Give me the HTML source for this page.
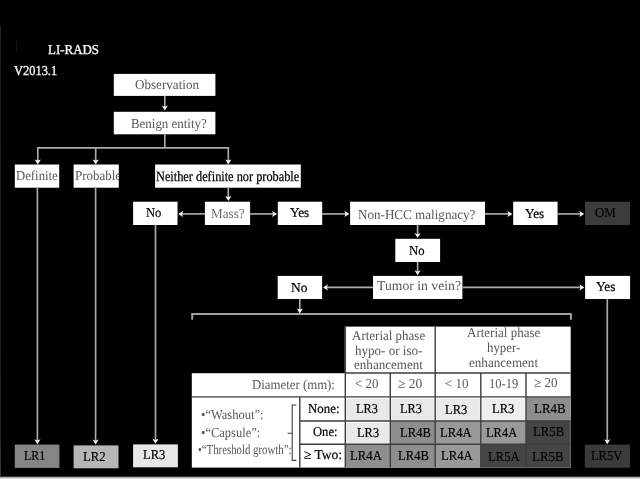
<!DOCTYPE html>
<html><head><meta charset="utf-8"><title>LI-RADS V2013.1</title>
<style>
html,body{margin:0;padding:0;background:#000;}
html{filter:grayscale(1);}
body{width:640px;height:479px;position:relative;overflow:hidden;font-family:"Liberation Serif","DejaVu Serif",serif;font-size:13.6px;color:#000;text-rendering:geometricPrecision;}
.b{position:absolute;}
.t{position:absolute;white-space:nowrap;line-height:1;transform-origin:0 0;}
.g{color:#585858;}
.w{color:#f4f4f4;-webkit-text-stroke:0.35px #f4f4f4;}
.k{-webkit-text-stroke:0.2px #000;}
.n{-webkit-text-stroke:0.25px #000;}
.m{color:#6c6c6c;}
svg{position:absolute;left:0;top:0;}
</style></head><body>
<div class="b" style="left:0;top:476px;width:640px;height:3px;background:linear-gradient(#000,#6a6a6a 33%,#d4d4d4 60%,#e2e2e2)"></div>
<div class="b" style="left:0;top:26px;width:1.4px;height:451px;background:linear-gradient(#242424,#1a1a1a 10%,#222 90%,#3c3c3c)"></div>
<div class="b" style="left:15.6px;top:41px;width:1.5px;height:10.5px;background:#171717"></div>
<svg width="640" height="479" viewBox="0 0 640 479" fill="none" stroke="#acacac" stroke-width="1.65">
<rect x="191.8" y="373.2" width="378.9" height="94.4" fill="#fff" stroke="none"/>
<rect x="344.8" y="326.6" width="225.9" height="47.4" fill="#fff" stroke="none"/>
<rect x="113.8" y="73.9" width="101.6" height="22.0" fill="#fff" stroke="none"/>
<rect x="113.8" y="111.8" width="101.6" height="22.5" fill="#fff" stroke="none"/>
<rect x="14.8" y="164.5" width="44.4" height="23.2" fill="#fff" stroke="none"/>
<rect x="73.6" y="164.5" width="45.2" height="23.2" fill="#fff" stroke="none"/>
<rect x="155.1" y="164.5" width="145.7" height="23.2" fill="#fff" stroke="none"/>
<rect x="133.1" y="201.7" width="44.4" height="23.3" fill="#fff" stroke="none"/>
<rect x="204.9" y="201.7" width="45.2" height="23.3" fill="#fff" stroke="none"/>
<rect x="277.8" y="201.7" width="44.4" height="23.3" fill="#fff" stroke="none"/>
<rect x="350.1" y="201.7" width="134.9" height="23.3" fill="#fff" stroke="none"/>
<rect x="513.2" y="201.7" width="44.4" height="23.3" fill="#fff" stroke="none"/>
<rect x="585" y="201.7" width="45.0" height="23.3" fill="#3c3c3c" stroke="none"/>
<rect x="395.3" y="238.8" width="44.8" height="23.2" fill="#fff" stroke="none"/>
<rect x="277.7" y="275.9" width="44.4" height="23.1" fill="#fff" stroke="none"/>
<rect x="373.0" y="275.9" width="89.4" height="23.1" fill="#fff" stroke="none"/>
<rect x="585.1" y="275.9" width="45.0" height="23.1" fill="#fff" stroke="none"/>
<rect x="14.8" y="444.6" width="44.6" height="23.3" fill="#858585" stroke="none"/>
<rect x="73.6" y="445.4" width="44.9" height="22.9" fill="#b6b6b6" stroke="none"/>
<rect x="133.1" y="444.4" width="44.8" height="22.9" fill="#e7e7e7" stroke="none"/>
<rect x="584.8" y="444.6" width="45.2" height="23.1" fill="#3b3b3b" stroke="none"/>
<rect x="346.3" y="398.7" width="43.0" height="21.3" fill="#e9e9e9" stroke="none"/>
<rect x="391.3" y="398.7" width="42.9" height="21.3" fill="#e9e9e9" stroke="none"/>
<rect x="436.2" y="398.7" width="43.6" height="21.3" fill="#e9e9e9" stroke="none"/>
<rect x="481.8" y="398.7" width="43.2" height="21.3" fill="#eeeeee" stroke="none"/>
<rect x="526.0" y="396.9" width="44.7" height="24.1" fill="#8e8e8e" stroke="none"/>
<rect x="346.3" y="422.8" width="43.0" height="20.5" fill="#e9e9e9" stroke="none"/>
<rect x="390.3" y="421.0" width="44.9" height="23.3" fill="#8e8e8e" stroke="none"/>
<rect x="435.2" y="421.0" width="45.6" height="23.3" fill="#999999" stroke="none"/>
<rect x="480.8" y="421.0" width="45.2" height="23.3" fill="#999999" stroke="none"/>
<rect x="526.0" y="421.0" width="44.7" height="23.3" fill="#454545" stroke="none"/>
<rect x="345.3" y="444.3" width="45.0" height="23.3" fill="#8e8e8e" stroke="none"/>
<rect x="390.3" y="444.3" width="44.9" height="23.3" fill="#8e8e8e" stroke="none"/>
<rect x="435.2" y="444.3" width="45.6" height="23.3" fill="#999999" stroke="none"/>
<rect x="480.8" y="444.3" width="45.2" height="23.3" fill="#454545" stroke="none"/>
<rect x="526.0" y="444.3" width="44.7" height="23.3" fill="#454545" stroke="none"/>
<path d="M164.8 95.9L164.8 107.6" />
<polygon points="164.8,110.6 161.70000000000002,105.6 164.8,106.8 167.9,105.6" fill="#f4f4f4" stroke="none"/>
<path d="M164.8 134.3L164.8 147.8" />
<path d="M37 147.8L229.1 147.8" />
<path d="M37.8 147L37.8 161.4" />
<polygon points="37.8,164.4 34.699999999999996,159.4 37.8,160.6 40.9,159.4" fill="#f4f4f4" stroke="none"/>
<path d="M95.7 147.8L95.7 161.4" />
<polygon points="95.7,164.4 92.60000000000001,159.4 95.7,160.6 98.8,159.4" fill="#f4f4f4" stroke="none"/>
<path d="M228.3 147L228.3 161.4" />
<polygon points="228.3,164.4 225.20000000000002,159.4 228.3,160.6 231.4,159.4" fill="#f4f4f4" stroke="none"/>
<path d="M228.3 187.7L228.3 197.9" />
<polygon points="228.3,200.9 225.20000000000002,195.9 228.3,197.1 231.4,195.9" fill="#f4f4f4" stroke="none"/>
<path d="M37.4 187.7L37.4 441.2" />
<polygon points="37.4,444.2 34.3,439.2 37.4,440.4 40.5,439.2" fill="#f4f4f4" stroke="none"/>
<path d="M95.6 187.7L95.6 441.6" />
<polygon points="95.6,444.6 92.5,439.6 95.6,440.8 98.69999999999999,439.6" fill="#f4f4f4" stroke="none"/>
<path d="M155.5 225L155.5 440.8" />
<polygon points="155.5,443.8 152.4,438.8 155.5,440.0 158.6,438.8" fill="#f4f4f4" stroke="none"/>
<path d="M205 213.9L181.2 213.9" />
<polygon points="178.2,213.9 183.2,210.8 182.0,213.9 183.2,217.0" fill="#f4f4f4" stroke="none"/>
<path d="M250 213.9L274 213.9" />
<polygon points="277,213.9 272.0,210.8 273.2,213.9 272.0,217.0" fill="#f4f4f4" stroke="none"/>
<path d="M322 213.9L346.4 213.9" />
<polygon points="349.4,213.9 344.4,210.8 345.59999999999997,213.9 344.4,217.0" fill="#f4f4f4" stroke="none"/>
<path d="M485 213.9L509.4 213.9" />
<polygon points="512.4,213.9 507.4,210.8 508.59999999999997,213.9 507.4,217.0" fill="#f4f4f4" stroke="none"/>
<path d="M557.6 213.9L581.2 213.9" />
<polygon points="584.2,213.9 579.2,210.8 580.4000000000001,213.9 579.2,217.0" fill="#f4f4f4" stroke="none"/>
<path d="M417.6 225L417.6 235.0" />
<polygon points="417.6,238.0 414.5,233.0 417.6,234.2 420.70000000000005,233.0" fill="#f4f4f4" stroke="none"/>
<path d="M417.6 262L417.6 272.2" />
<polygon points="417.6,275.2 414.5,270.2 417.6,271.4 420.70000000000005,270.2" fill="#f4f4f4" stroke="none"/>
<path d="M373.2 287.4L326 287.4" />
<polygon points="323,287.4 328.0,284.29999999999995 326.8,287.4 328.0,290.5" fill="#f4f4f4" stroke="none"/>
<path d="M462.5 287.4L581.4 287.4" />
<polygon points="584.4,287.4 579.4,284.29999999999995 580.6,287.4 579.4,290.5" fill="#f4f4f4" stroke="none"/>
<path d="M299.8 299L299.8 310.4" />
<polygon points="299.8,313.4 296.7,308.4 299.8,309.59999999999997 302.90000000000003,308.4" fill="#f4f4f4" stroke="none"/>
<path d="M607.3 299L607.3 441.2" />
<polygon points="607.3,444.2 604.1999999999999,439.2 607.3,440.4 610.4,439.2" fill="#f4f4f4" stroke="none"/>
<path d="M192.2 319.8V314.1H570.9V319.8" stroke-width="2" stroke="#a0a0a0"/>
<path d="M345.3 326.6L345.3 467.6" stroke="#3e3e3e" stroke-width="1.4"/>
<path d="M435.2 326.6L435.2 467.6" stroke="#3e3e3e" stroke-width="1.4"/>
<path d="M390.3 373L390.3 467.6" stroke="#3e3e3e" stroke-width="1.4"/>
<path d="M480.8 373L480.8 467.6" stroke="#3e3e3e" stroke-width="1.4"/>
<path d="M526.0 373L526.0 467.6" stroke="#3e3e3e" stroke-width="1.4"/>
<path d="M299.8 397L299.8 467.6" stroke="#3e3e3e" stroke-width="1.4"/>
<path d="M344.8 373L570.7 373" stroke="#3e3e3e" stroke-width="1.4"/>
<path d="M191.6 396.9L570.7 396.9" stroke="#3e3e3e" stroke-width="1.4"/>
<path d="M299.8 421.0L570.7 421.0" stroke="#3e3e3e" stroke-width="1.4"/>
<path d="M299.8 444.3L570.7 444.3" stroke="#3e3e3e" stroke-width="1.4"/>
<path d="M296.4 405H292.2V460.4H296.4M287.6 433.3H292.2" stroke="#3e3e3e" stroke-width="1.1"/>
</svg>
<span class="t w" style="left:48.3px;top:43.0px;transform:scaleX(0.951);">LI-RADS</span>
<span class="t w" style="left:13.8px;top:64.3px;transform:scaleX(0.915);">V2013.1</span>
<span class="t g" style="left:134.9px;top:77.7px;transform:scaleX(0.964);">Observation</span>
<span class="t g" style="left:130.6px;top:116.5px;transform:scaleX(0.950);">Benign entity?</span>
<span class="t g" style="left:16.2px;top:169.3px;transform:scaleX(0.938);">Definite</span>
<span class="t g" style="left:74.7px;top:169.3px;transform:scaleX(0.954);clip-path:inset(-5px 2.1px -5px -5px);">Probable</span>
<span class="t n" style="left:156.3px;top:169.6px;font-size:14.3px;transform:scaleX(0.861);">Neither definite nor probable</span>
<span class="t k" style="left:146.3px;top:206.3px;transform:scaleX(0.926);">No</span>
<span class="t m" style="left:211.3px;top:206.8px;transform:scaleX(0.970);">Mass?</span>
<span class="t k" style="left:290.0px;top:205.6px;transform:scaleX(0.970);">Yes</span>
<span class="t g" style="left:357.5px;top:207.5px;transform:scaleX(0.963);">Non-HCC malignacy?</span>
<span class="t k" style="left:525.0px;top:206.7px;transform:scaleX(0.970);">Yes</span>
<span class="t k" style="left:595.0px;top:205.6px;transform:scaleX(0.949);">OM</span>
<span class="t k" style="left:408.5px;top:244.0px;transform:scaleX(0.933);">No</span>
<span class="t k" style="left:291.1px;top:280.9px;transform:scaleX(0.987);">No</span>
<span class="t g" style="left:377.0px;top:279.3px;transform:scaleX(1.008);">Tumor in vein?</span>
<span class="t k" style="left:596.0px;top:280.3px;transform:scaleX(0.990);">Yes</span>
<span class="t k" style="left:23.6px;top:448.8px;transform:scaleX(0.885);">LR1</span>
<span class="t k" style="left:83.3px;top:449.7px;transform:scaleX(0.939);">LR2</span>
<span class="t k" style="left:143.0px;top:448.2px;transform:scaleX(0.926);">LR3</span>
<span class="t k" style="left:591.3px;top:449.3px;transform:scaleX(0.918);">LR5V</span>
<span class="t g" style="left:351.6px;top:328.6px;transform:scaleX(0.955);">Arterial phase</span>
<span class="t g" style="left:354.6px;top:343.6px;transform:scaleX(0.959);">hypo- or iso-</span>
<span class="t g" style="left:353.5px;top:358.4px;transform:scaleX(0.962);">enhancement</span>
<span class="t g" style="left:466.8px;top:325.7px;transform:scaleX(0.956);">Arterial phase</span>
<span class="t g" style="left:487.0px;top:340.8px;transform:scaleX(0.943);">hyper-</span>
<span class="t g" style="left:468.7px;top:355.5px;transform:scaleX(0.963);">enhancement</span>
<span class="t g" style="left:251.5px;top:378.3px;transform:scaleX(0.943);">Diameter (mm):</span>
<span class="t g" style="left:355.0px;top:377.3px;transform:scaleX(0.949);">&lt; 20</span>
<span class="t g" style="left:397.8px;top:377.3px;transform:scaleX(0.989);">≥ 20</span>
<span class="t g" style="left:445.2px;top:377.3px;transform:scaleX(0.953);">&lt; 10</span>
<span class="t g" style="left:488.6px;top:377.3px;transform:scaleX(0.923);">10-19</span>
<span class="t g" style="left:534.3px;top:376.1px;transform:scaleX(0.957);">≥ 20</span>
<span class="t k" style="left:308.2px;top:402.0px;transform:scaleX(0.948);">None:</span>
<span class="t k" style="left:313.1px;top:425.2px;transform:scaleX(0.927);">One:</span>
<span class="t k" style="left:303.6px;top:447.6px;transform:scaleX(0.988);">≥ Two:</span>
<span class="t k" style="left:355.6px;top:401.9px;transform:scaleX(0.906);">LR3</span>
<span class="t k" style="left:400.0px;top:401.9px;transform:scaleX(0.910);">LR3</span>
<span class="t k" style="left:445.2px;top:402.9px;transform:scaleX(0.922);">LR3</span>
<span class="t k" style="left:492.1px;top:401.9px;transform:scaleX(0.922);">LR3</span>
<span class="t k" style="left:533.8px;top:401.7px;transform:scaleX(0.953);">LR4B</span>
<span class="t k" style="left:356.9px;top:425.7px;transform:scaleX(0.914);">LR3</span>
<span class="t k" style="left:399.6px;top:425.7px;transform:scaleX(0.932);">LR4B</span>
<span class="t k" style="left:440.0px;top:425.8px;transform:scaleX(0.932);">LR4A</span>
<span class="t k" style="left:486.2px;top:426.3px;transform:scaleX(0.918);">LR4A</span>
<span class="t k" style="left:533.1px;top:425.1px;transform:scaleX(0.938);">LR5B</span>
<span class="t k" style="left:350.3px;top:448.8px;transform:scaleX(0.938);">LR4A</span>
<span class="t k" style="left:398.1px;top:448.8px;transform:scaleX(0.929);">LR4B</span>
<span class="t k" style="left:440.5px;top:449.3px;transform:scaleX(0.932);">LR4A</span>
<span class="t k" style="left:488.1px;top:450.0px;transform:scaleX(0.932);">LR5A</span>
<span class="t k" style="left:532.0px;top:450.0px;transform:scaleX(0.950);">LR5B</span>
<span class="t g" style="left:200.5px;top:408.4px;transform:scaleX(0.922);">•“Washout”:</span>
<span class="t g" style="left:200.5px;top:426.0px;transform:scaleX(0.920);">•“Capsule”:</span>
<span class="t g" style="left:198.4px;top:443.2px;transform:scaleX(0.795);">•“Threshold growth”:</span>
</body></html>
